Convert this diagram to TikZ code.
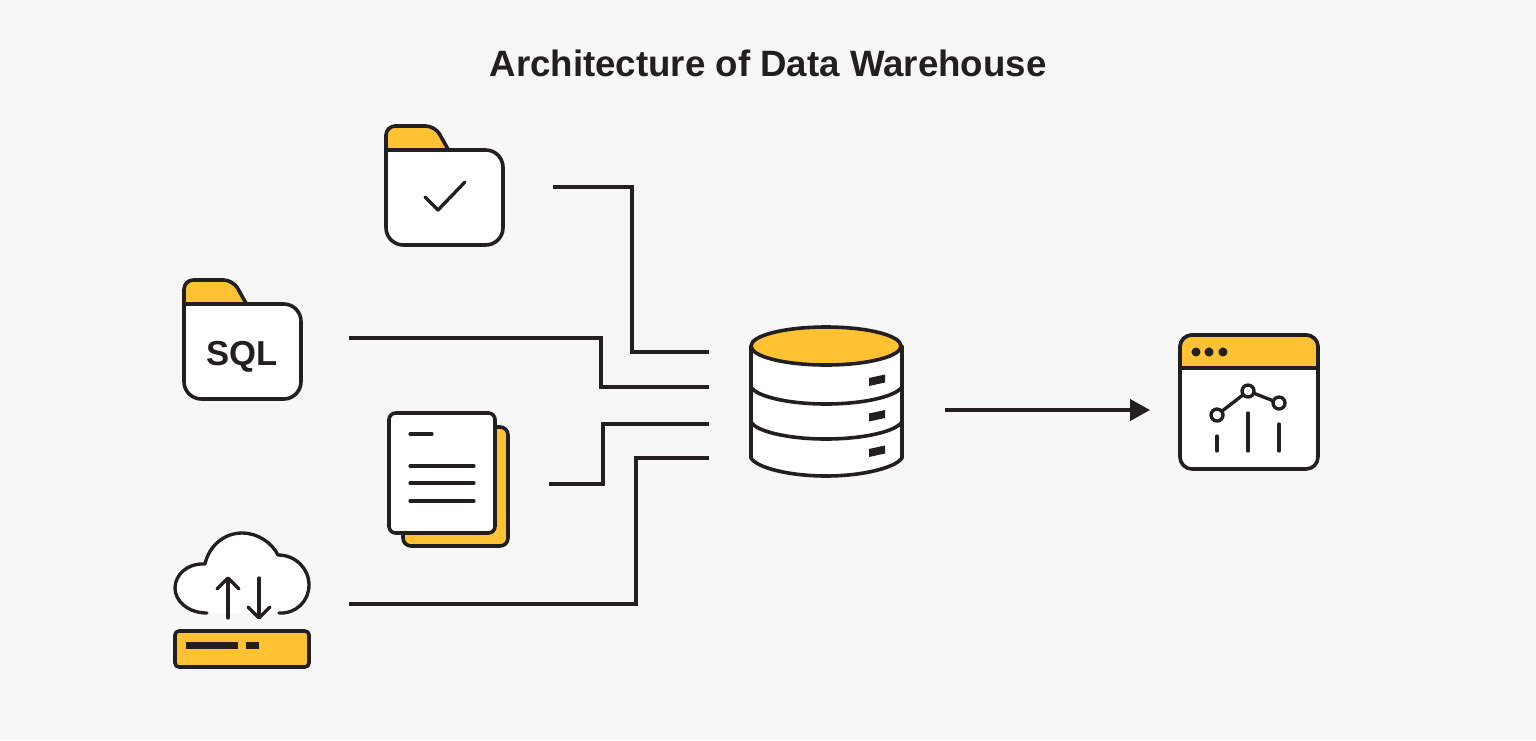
\documentclass[tikz,border=0pt]{standalone}
\usepackage{fontspec}
\setmainfont{Liberation Sans}
\usetikzlibrary{arrows.meta}
\definecolor{inkc}{HTML}{231F20}
\definecolor{paperc}{HTML}{F7F7F7}
\definecolor{sunc}{HTML}{FFC233}
\tikzset{
  icon/.style={draw=inkc,line width=2.7pt,line join=round},
  thinicon/.style={draw=inkc,line width=2.5pt,line cap=round,line join=round},
  wire/.style={draw=inkc,line width=2.5pt},
}
\begin{document}
\begin{tikzpicture}[x=.75pt,y=-.75pt]
\fill[paperc] (0,0) rectangle (1536,740);
\node[text=inkc,font=\bfseries\fontsize{27.5}{32}\selectfont] (title) at (768,63) {Architecture of Data Warehouse};
% folder with check
\filldraw[icon,fill=sunc,rounded corners=7pt] (386,151) -- (386,126) -- (435,126) -- (449,151);
\filldraw[icon,fill=white,rounded corners=13pt] (386,150) -- (503,150) -- (503,245) -- (386,245) -- (386,148);
\draw[thinicon] (425,197) -- (438,210) -- (465,182);
% folder with text
\filldraw[icon,fill=sunc,rounded corners=7pt] (184,305) -- (184,280) -- (233,280) -- (247,305);
\filldraw[icon,fill=white,rounded corners=13pt] (184,304) -- (301,304) -- (301,399) -- (184,399) -- (184,302);
\node[text=inkc,font=\bfseries\fontsize{26}{30}\selectfont] (sql) at (242,357) {SQL};
% papers
\filldraw[icon,fill=sunc,rounded corners=6pt] (403,427) rectangle (508,546);
\filldraw[icon,fill=white,rounded corners=5pt] (389,413) rectangle (495,533);
\draw[thinicon] (410,434) -- (432,434);
\draw[thinicon] (410,466) -- (474,466);
\draw[thinicon] (410,483) -- (474,483);
\draw[thinicon] (410,501) -- (474,501);
% cloud
\fill[white] (207,613) .. controls (188,613) and (175,601) .. (175,588) .. controls (175,575) and (187,563) .. (205,564) .. controls (209,546) and (224,533) .. (242,533) .. controls (258,533) and (272,543) .. (278,555) .. controls (296,555) and (309,569) .. (309,585) .. controls (309,601) and (296,614) .. (279,613) -- cycle;
\draw[thinicon] (207,613) .. controls (188,613) and (175,601) .. (175,588) .. controls (175,575) and (187,563) .. (205,564) .. controls (209,546) and (224,533) .. (242,533) .. controls (258,533) and (272,543) .. (278,555) .. controls (296,555) and (309,569) .. (309,585) .. controls (309,601) and (296,614) .. (279,613);
\draw[thinicon] (228,618) -- (228,579);
\draw[thinicon] (217,589) -- (228,578) -- (239,589);
\draw[thinicon] (259,578) -- (259,617);
\draw[thinicon] (248,607) -- (259,618) -- (270,607);
% server
\filldraw[icon,fill=sunc,rounded corners=3pt] (175,631) rectangle (309,667);
\fill[inkc] (186,642) rectangle (238,649);
\fill[inkc] (246,642) rectangle (259,649);
% database
\filldraw[icon,fill=white] (751,346) -- (751,458) .. controls (757,468) and (790,476) .. (826,476) .. controls (862,476) and (895,468) .. (902,458) -- (902,346) -- cycle;
\draw[icon] (751,387) .. controls (757,397) and (790,404) .. (826,404) .. controls (862,404) and (895,397) .. (902,387);
\draw[icon] (751,422) .. controls (757,432) and (790,439) .. (826,439) .. controls (862,439) and (895,432) .. (902,422);
\filldraw[icon,fill=sunc] (826,346) ellipse [x radius=75,y radius=19];
\fill[inkc] (869,378) -- (885,374.5) -- (885,382.5) -- (869,386) -- cycle;
\fill[inkc] (869,413.5) -- (885,410) -- (885,418) -- (869,421.5) -- cycle;
\fill[inkc] (869,449) -- (885,445.5) -- (885,453.5) -- (869,457) -- cycle;
% window with chart
\filldraw[icon,fill=white,rounded corners=9pt] (1180,335) rectangle (1318,469);
\fill[sunc,rounded corners=9pt] (1180,368) -- (1180,335) -- (1318,335) -- (1318,368);
\draw[icon,rounded corners=9pt] (1180,368) -- (1180,335) -- (1318,335) -- (1318,368);
\draw[icon] (1180,368) -- (1318,368);
\fill[inkc] (1196,352) circle (3.4pt);
\fill[inkc] (1209,352) circle (3.4pt);
\fill[inkc] (1223,352) circle (3.4pt);
\draw[thinicon] (1217,415) -- (1248,391) -- (1279,403);
\filldraw[thinicon,fill=white] (1217,415) circle (4.5pt);
\filldraw[thinicon,fill=white] (1248,391) circle (4.5pt);
\filldraw[thinicon,fill=white] (1279,403) circle (4.5pt);
\draw[thinicon] (1217,436) -- (1217,451);
\draw[thinicon] (1248,413) -- (1248,451);
\draw[thinicon] (1279,424) -- (1279,451);
% connectors
\coordinate (checkout) at (553,187);
\coordinate (sqlout) at (349,338);
\coordinate (docout) at (549,484);
\coordinate (cloudout) at (349,604);
\coordinate (dbin1) at (709,352);
\coordinate (dbin2) at (709,387);
\coordinate (dbin3) at (709,424);
\coordinate (dbin4) at (709,458);
\coordinate (dbout) at (945,410);
\coordinate (chartin) at (1150,410);
\draw[wire] (checkout) -- (632,187) -- (632,352) -- (dbin1);
\draw[wire] (sqlout) -- (601,338) -- (601,387) -- (dbin2);
\draw[wire] (docout) -- (603,484) -- (603,424) -- (dbin3);
\draw[wire] (cloudout) -- (636,604) -- (636,458) -- (dbin4);
\draw[wire,-{Triangle[length=15pt,width=16pt]}] (dbout) -- (chartin);
\end{tikzpicture}
\end{document}
